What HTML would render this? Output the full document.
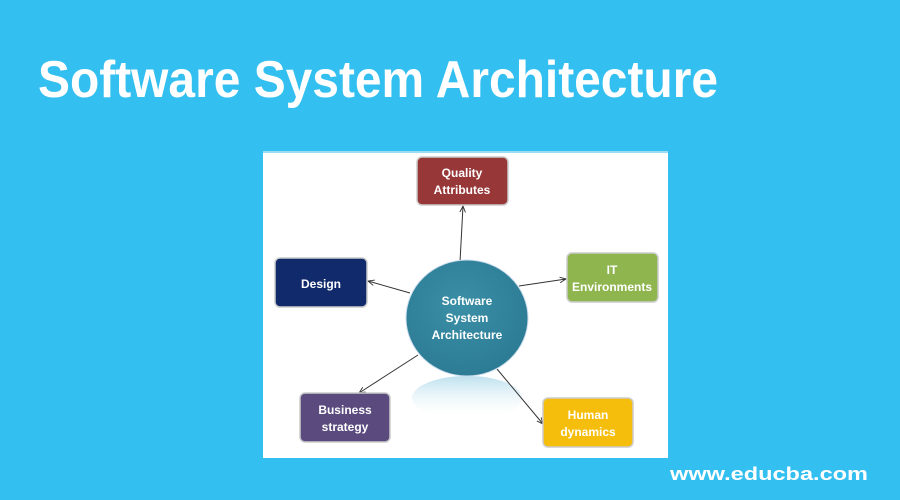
<!DOCTYPE html>
<html><head><style>
html,body{margin:0;padding:0;}
body{width:900px;height:500px;background:#33bff0;overflow:hidden;font-family:"Liberation Sans",sans-serif;}
</style></head><body>
<svg width="900" height="500" xmlns="http://www.w3.org/2000/svg" style="display:block">
<defs>
<marker id="a" viewBox="0 0 10 10" refX="9" refY="5" markerWidth="7" markerHeight="7" orient="auto"><path d="M0,1 L9,5 L0,9" fill="none" stroke="#333" stroke-width="1.3"/></marker>
<radialGradient id="c" cx="0.45" cy="0.4" r="0.65"><stop offset="0" stop-color="#3a8fa6"/><stop offset="1" stop-color="#2b7a93"/></radialGradient>
<linearGradient id="r" x1="0" y1="0" x2="0" y2="1"><stop offset="0" stop-color="#9fd3e6" stop-opacity="0.7"/><stop offset="1" stop-color="#fff" stop-opacity="0"/></linearGradient>
</defs>
<text x="38" y="97" fill="#fff" font-size="52" font-weight="bold" textLength="680" lengthAdjust="spacingAndGlyphs">Software System Architecture</text>
<rect x="263" y="151" width="405" height="307" fill="#fff"/>
<rect x="263" y="151" width="405" height="2" fill="#9adcf3"/>
<ellipse cx="467" cy="398" rx="55" ry="22" fill="url(#r)"/>
<g stroke="#333" stroke-width="1" marker-end="url(#a)">
<line x1="460" y1="262" x2="463" y2="206"/>
<line x1="410" y1="293" x2="368" y2="281"/>
<line x1="519" y1="286" x2="566" y2="279"/>
<line x1="418" y1="355" x2="359" y2="393"/>
<line x1="497" y1="369" x2="543" y2="424"/>
</g>
<ellipse cx="467" cy="318" rx="61" ry="58" fill="url(#c)" stroke="#cde" stroke-width="1"/>
<g font-weight="bold" font-size="12" fill="#fff" text-anchor="middle">
<text x="467" y="305">Software</text><text x="467" y="322">System</text><text x="467" y="339">Architecture</text>
</g>
<g stroke="#ccc" stroke-width="1.5">
<rect x="417" y="157" width="91" height="48" rx="5" fill="#973738"/>
<rect x="275" y="258" width="92" height="49" rx="5" fill="#102a6b"/>
<rect x="567" y="253" width="91" height="49" rx="5" fill="#8fb54f"/>
<rect x="300" y="393" width="90" height="49" rx="5" fill="#5b4a7e"/>
<rect x="543" y="398" width="90" height="49" rx="5" fill="#f5bd0c"/>
</g>
<g font-weight="bold" font-size="12" fill="#fff" text-anchor="middle">
<text x="462" y="177">Quality</text><text x="462" y="194">Attributes</text>
<text x="321" y="288">Design</text>
<text x="612" y="274">IT</text><text x="612" y="291">Environments</text>
<text x="345" y="414">Business</text><text x="345" y="431">strategy</text>
<text x="588" y="419">Human</text><text x="588" y="436">dynamics</text>
</g>
<text x="670" y="480" fill="#fff" font-size="18" font-weight="bold" textLength="198" lengthAdjust="spacingAndGlyphs">www.educba.com</text>
</svg>
</body></html>
